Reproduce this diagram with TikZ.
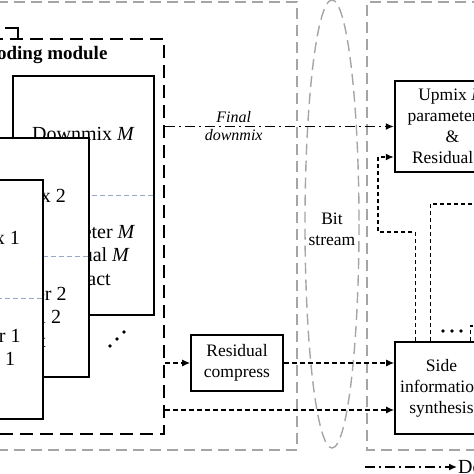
\documentclass[tikz,border=0pt]{standalone}
\usepackage{fontspec}
\setmainfont{Liberation Serif}
\usetikzlibrary{arrows.meta}
\definecolor{sepblue}{RGB}{150,170,198}
\definecolor{zonegray}{RGB}{165,165,165}
\tikzset{
  modbox/.style={draw, line width=1.8pt, fill=white, minimum width=141pt, minimum height=239pt, inner sep=0pt},
  modtxt/.style={align=center, font=\fontsize{20}{23.5}\selectfont},
  blk/.style={draw, line width=1.6pt, fill=white, align=center, inner sep=0pt, font=\fontsize{17.5}{21}\selectfont},
  zone/.style={draw=zonegray, line width=1.4pt, dash pattern=on 11pt off 6pt},
  sepline/.style={draw=sepblue, line width=0.9pt, dash pattern=on 5pt off 3pt},
  flow/.style={-{Latex[length=8pt,width=7pt]}, line width=1.4pt, dash pattern=on 5pt off 3pt},
  vflow/.style={line width=1.4pt, dash pattern=on 4pt off 3pt},
  dmx/.style={-{Latex[length=8pt,width=7pt]}, line width=1.4pt, dash pattern=on 10pt off 4pt on 2pt off 4pt},
}
\begin{document}
\begin{tikzpicture}[x=1pt,y=-1pt]
  \useasboundingbox (0,0) rectangle (474,474);
  \clip (0,0) rectangle (474,474);
  % encoder / bit stream / decoder zones
  \draw[zone] (-20,2) -- (297,2) -- (297,450) -- (-20,450);
  \draw[zone] (500,2) -- (367,2) -- (367,450) -- (500,450);
  \draw[zone] (332,224) ellipse [x radius=27, y radius=224];
  \node[align=center, font=\fontsize{17.5}{21}\selectfont] (bit) at (332,229) {Bit\\stream};
  % encoding module
  \node[draw, line width=2.2pt, dash pattern=on 13pt off 7pt, minimum width=364pt, minimum height=395pt] (enc) at (-18,236.5) {};
  \node[anchor=east, font=\bfseries\fontsize{19}{22}\selectfont] (enctxt) at (111,55) {Encoding module};
  \draw[line width=1.6pt] (5,28) -- (18,28) -- (18,38);
  % stacked sub-modules
  \node[modbox] (bM) at (83.5,195.5) {};
  \node[modtxt] at ([yshift=-59pt]bM.north) {Downmix \textit{M}};
  \draw[sepline] ([yshift=-120pt]bM.north west) -- ([yshift=-120pt]bM.north east);
  \node[modtxt] at ([yshift=-180pt]bM.north) {Parameter \textit{M}\\Residual \textit{M}\\extract};
  \node[modbox] (b2) at (18.5,257.5) {};
  \node[modtxt] at ([yshift=-59pt]b2.north) {Downmix 2};
  \draw[sepline] ([yshift=-119pt]b2.north west) -- ([yshift=-119pt]b2.north east);
  \node[modtxt] at ([yshift=-180pt]b2.north) {Parameter 2\\Residual 2\\extract};
  \node[modbox] (b1) at (-27.5,299.5) {};
  \node[modtxt] at ([yshift=-59pt]b1.north) {Downmix 1};
  \draw[sepline] ([yshift=-119pt]b1.north west) -- ([yshift=-119pt]b1.north east);
  \node[modtxt] at ([yshift=-180pt]b1.north) {Parameter 1\\Residual 1\\extract};
  \foreach \p in {(110,346),(117,339),(124,332)} \fill \p circle (1.8);
  % decoder side
  \node[blk, line width=2.4pt, minimum width=115pt, minimum height=91pt] (up) at (452.5,126.5) {Upmix \textit{M}\\parameter \textit{M}\\\&\\Residual \textit{M}};
  \node[blk, minimum width=92pt, minimum height=56pt] (res) at (237,363) {Residual\\compress};
  \node[blk, minimum width=93pt, minimum height=92pt] (side) at (441.5,388) {Side\\information\\synthesis};
  % connectors
  \draw[dmx] (enc.east |- up.west) -- (up.west) node[pos=0.3, align=center, font=\itshape\fontsize{16}{18}\selectfont] {Final\\downmix};
  \draw[flow] (enc.east |- res.west) -- (res.west);
  \draw[flow] (res.east) -- (side.west |- res.east);
  \coordinate (low) at (0,410);
  \draw[flow] (enc.east |- low) -- (side.west |- low);
  \coordinate (s1) at ([xshift=21pt]side.north west);
  \coordinate (s2) at ([xshift=36pt]side.north west);
  \coordinate (s3) at ([xshift=76pt]side.north west);
  \draw[vflow, -{Latex[length=8pt,width=7pt]}] (s1) |- (378,232) |- ([yshift=-30.5pt]up.west);
  \draw[vflow] (s2) |- (500,204);
  \draw[vflow] (s3) |- (500,326);
  \foreach \x in {443,452,461} \fill (\x,331) circle (1.8);
  % legend
  \coordinate (lg) at (365,467);
  \node[anchor=west, inner sep=1pt, font=\fontsize{20}{24}\selectfont] (lgtxt) at (457,467) {Downmix};
  \draw[dmx] (lg) -- (lgtxt.west);
\end{tikzpicture}
\end{document}
